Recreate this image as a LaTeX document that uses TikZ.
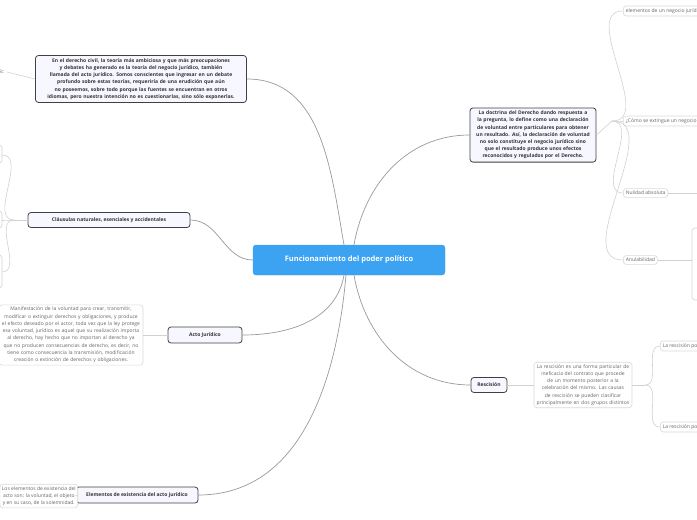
\documentclass[tikz,border=0pt]{standalone}
\usepackage{fontspec}
\setmainfont{Open Sans}
\definecolor{cblue}{HTML}{3CA2F2}
\hyphenpenalty=10000 \exhyphenpenalty=10000
\begin{document}
\begin{tikzpicture}[x=1pt,y=-1pt,
 main/.style={draw=black!75,line width=0.8pt,rounded corners=3pt,fill=blue!3,font=\fontsize{5}{7.2}\selectfont\bfseries,text=black!80,align=center,inner sep=3pt},
 sub/.style={draw=black!15,line width=0.6pt,rounded corners=3pt,fill=white,font=\fontsize{5}{7.3}\selectfont,text=black!60,align=center,inner sep=3pt},
 leaf/.style={sub,anchor=west,inner sep=2.5pt},
 con/.style={draw=black!40,line width=0.7pt},
 lcon/.style={draw=black!18,line width=0.6pt}]
\useasboundingbox (0,0) rectangle (697,520);
\clip (0,0) rectangle (697,520);
\node[fill=cblue,draw=cblue,rounded corners=3pt,text=white,font=\fontsize{7.5}{9}\selectfont\bfseries,minimum width=192pt,minimum height=30pt] (c) at (349,260) {Funcionamiento del poder político};
\node[main,text width=205pt] (a) at (141,79) {En el derecho civil, la teoría más ambiciosa y que más preocupaciones y debates ha generado es la teoría del negocio jurídico, también llamada del acto jurídico. Somos conscientes que ingresar en un debate profundo sobre estas teorías, requeriría de una erudición que aún no poseemos, sobre todo porque las fuentes se encuentran en otros idiomas, pero nuestra intención no es cuestionarlas, sino sólo exponerlas.};
\node[main,text width=120pt] (b) at (533,135) {La doctrina del Derecho dando respuesta a la pregunta, lo define como una declaración de voluntad entre particulares para obtener un resultado. Así, la declaración de voluntad no solo constituye el negocio jurídico sino que el resultado produce unos efectos reconocidos y regulados por el Derecho.};
\node[main,minimum width=162pt,minimum height=15pt,inner sep=2pt] (cl) at (109,220) {Cláusulas naturales, esenciales y accidentales};
\node[main,minimum width=74pt,minimum height=16pt,inner sep=2pt] (aj) at (205,335) {Acto Jurídico};
\node[sub,text width=140pt,inner sep=2pt] (ajt) at (71,335) {Manifestación de la voluntad para crear, transmitir, modificar o extinguir derechos y obligaciones, y produce el efecto deseado por el actor, toda vez que la ley protege esa voluntad, jurídico es aquel que su realización importa al derecho, hay hecho que no importan al derecho ya que no producen consecuencias de derecho, es decir, no tiene como consecuencia la transmisión, modificación creación o extinción de derechos y obligaciones.};
\node[main,minimum width=36pt,minimum height=15pt,inner sep=2pt] (r) at (489,385) {Rescisión};
\node[sub,text width=94pt,inner sep=2pt] (rt) at (583,385) {La rescisión es una forma particular de ineficacia del contrato que procede de un momento posterior a la celebración del mismo. Las causas de rescisión se pueden clasificar principalmente en dos grupos distintos};
\node[main,minimum width=122pt,minimum height=16pt,inner sep=2pt] (el) at (137,495) {Elementos de existencia del acto jurídico};
\node[sub,anchor=east,align=center,inner sep=2pt] (elt) at (78,496) {Los elementos de existencia del\\acto son: la voluntad, el objeto\\y en su caso, de la solemnidad.};
\node[sub,draw=none,anchor=east,font=\fontsize{5}{6}\selectfont] (ic) at (7,72) {Artíc};
% right leaves
\node[leaf] (r1) at (623,11) {elementos de un negocio jurídico};
\node[leaf] (r2) at (623,121) {¿Cómo se extingue un negocio jurídico?};
\node[leaf] (r3) at (623,193) {Nulidad absoluta};
\node[leaf] (r4) at (623,260) {Anulabilidad};
\node[leaf] (r5) at (660,346) {La rescisión por lesión};
\node[leaf] (r6) at (660,427) {La rescisión por fraude};
\draw[lcon,rounded corners=3pt] (720,228) -- (692,228) -- (692,300) -- (720,300);
\coordinate (r4e) at (692,260);
\coordinate (r3e) at (697,193);
% left leaves of clausulas
\draw[lcon,rounded corners=3pt] (-20,145) -- (2,145) -- (2,163) -- (-20,163);
\draw[lcon,rounded corners=3pt] (-20,211) -- (2,211) -- (2,228) -- (-20,228);
\draw[lcon,rounded corners=3pt] (-20,255) -- (2,255) -- (2,288) -- (-20,288);
\coordinate (l1) at (2,155); \coordinate (l2) at (2,220); \coordinate (l3) at (2,272);
% main connectors
\draw[con] (c.north) ++(-5,0) to[out=100,in=0] (a.east);
\draw[con] (c.north) ++(5,0) to[out=80,in=180] (b.west);
\draw[con] (c.west) to[out=180,in=0] (cl.east);
\draw[con] (c.south) ++(-5,0) to[out=-100,in=0] (aj.east);
\draw[con] (c.south) ++(5,0) to[out=-80,in=180] (r.west);
\draw[con] (c.south) ++(-3,0) to[out=-95,in=0] (el.east);
% sub connectors
\draw[lcon] (a.west) -- (ic.east);
\draw[lcon] (aj.west) -- (ajt.east);
\draw[lcon] (r.east) -- (rt.west);
\draw[lcon] (el.west) -- (elt.east);
\draw[lcon] (b.east) -- (612,121) coordinate (bj);
\foreach \t in {r1,r2,r3,r4} \draw[lcon] (bj) to[out=0,in=180] (\t.west);
\draw[lcon] (rt.east) -- (645,385) coordinate (rj);
\foreach \t in {r5,r6} \draw[lcon] (rj) to[out=0,in=180] (\t.west);
\draw[lcon] (r3.east) -- (r3e);
\draw[lcon] (r4.east) -- (r4e);
\draw[lcon] (cl.west) -- (14,220) coordinate (cj);
\foreach \t in {l1,l2,l3} \draw[lcon] (cj) to[out=180,in=0] (\t);
\end{tikzpicture}
\end{document}
